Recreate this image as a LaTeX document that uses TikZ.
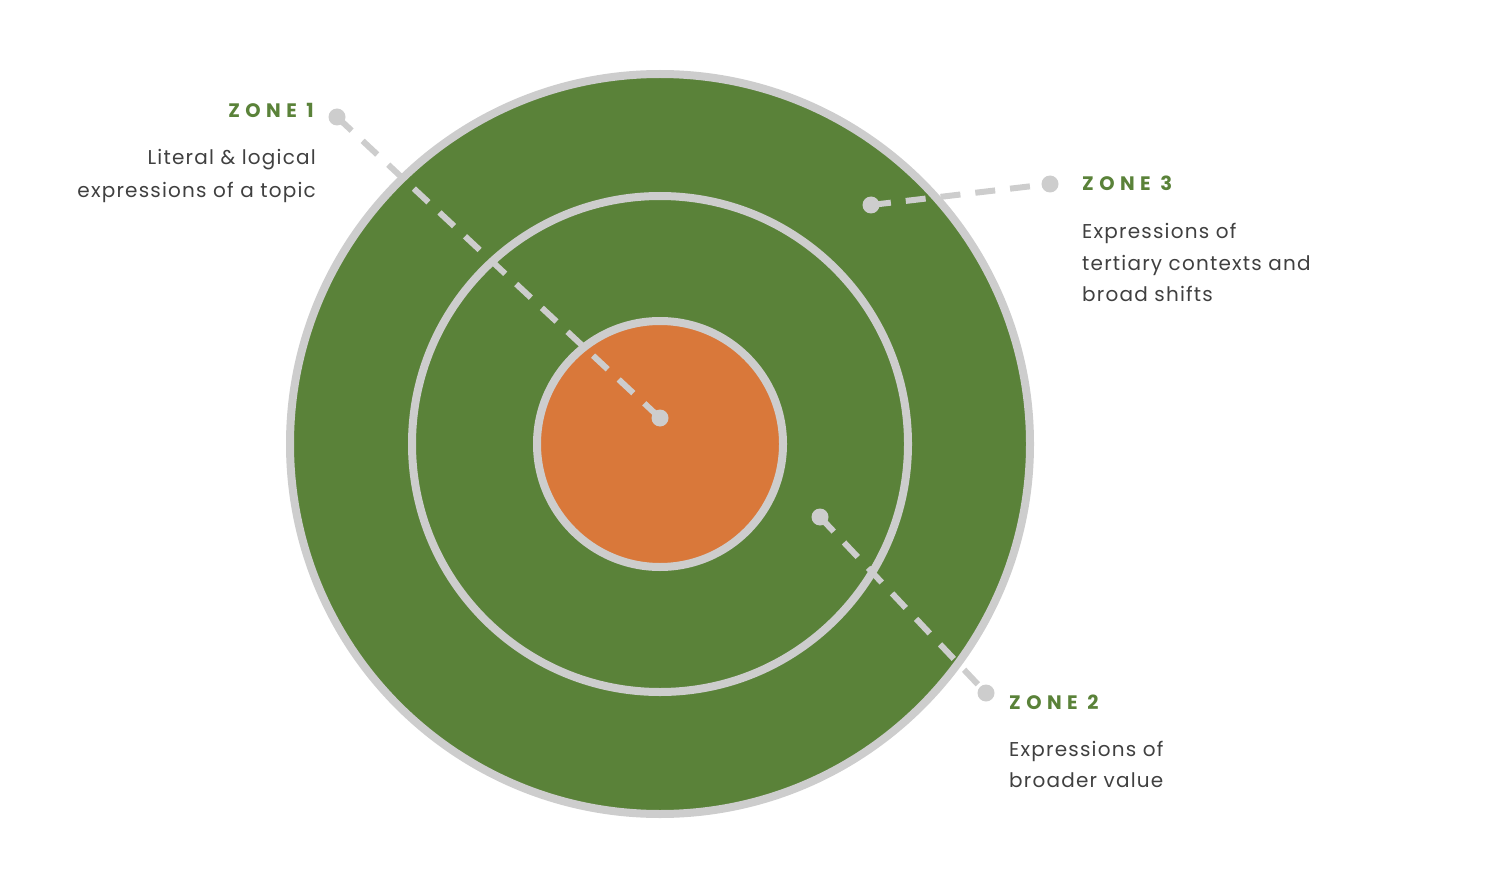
\documentclass[tikz,border=0pt]{standalone}
\usepackage{fontspec}
\setmainfont{Poppins}
\newfontfamily\zonefont[LetterSpace=28]{Poppins}
\newfontfamily\bodyfont[LetterSpace=6]{Poppins}
\definecolor{zgreen}{HTML}{5A8239}
\definecolor{zorange}{HTML}{D9783A}
\definecolor{zgray}{HTML}{CDCDCD}
\definecolor{ztext}{HTML}{404040}
\tikzset{
  ring/.style={draw=zgray, line width=8pt},
  dot/.style={circle, fill=zgray, inner sep=0pt, minimum size=17pt},
  dashline/.style={draw=zgray, line width=6pt, dash pattern=on 20pt off 15pt},
  zonelabel/.style={inner sep=0pt, text=zgreen, font=\zonefont\bfseries\fontsize{19.5}{22}\selectfont},
  bodytext/.style={inner sep=0pt, text=ztext, font=\bodyfont\fontsize{20}{22}\selectfont},
}
\begin{document}
\begin{tikzpicture}[x=1pt,y=-1pt]
\useasboundingbox (0,0) rectangle (1488,896);
% circles
\fill[zgreen] (660,444) circle (370);
\draw[ring] (660,444) circle (370);
\draw[ring] (660,444) circle (248);
\fill[zorange] (660,444) circle (123);
\draw[ring] (660,444) circle (123);
% dots
\node[dot] (z1o) at (337,117) {};
\node[dot] (z1i) at (660,418) {};
\node[dot] (z3i) at (871,205) {};
\node[dot] (z3o) at (1050,184) {};
\node[dot] (z2i) at (820,517) {};
\node[dot] (z2o) at (986,693) {};
% connectors
\draw[dashline] (z1o.center) -- (z1i.center);
\draw[dashline] (z3i.center) -- (z3o.center);
\draw[dashline] (z2i.center) -- (z2o.center);
% zone 1
\node[zonelabel, anchor=base east] (l1) at (314,118) {ZONE 1};
\node[bodytext, anchor=base east] (t1a) at (316,165) {Literal \& logical};
\node[bodytext, anchor=base east] (t1b) at (316,197) {expressions of a topic};
% zone 3
\node[zonelabel, anchor=base west] (l3) at (1082,191) {ZONE 3};
\node[bodytext, anchor=base west] (t3a) at (1082,238) {Expressions of};
\node[bodytext, anchor=base west] (t3b) at (1082,270) {tertiary contexts and};
\node[bodytext, anchor=base west] (t3c) at (1082,301) {broad shifts};
% zone 2
\node[zonelabel, anchor=base west] (l2) at (1009,709) {ZONE 2};
\node[bodytext, anchor=base west] (t2a) at (1009,756) {Expressions of};
\node[bodytext, anchor=base west] (t2b) at (1009,787) {broader value};
\end{tikzpicture}
\end{document}
